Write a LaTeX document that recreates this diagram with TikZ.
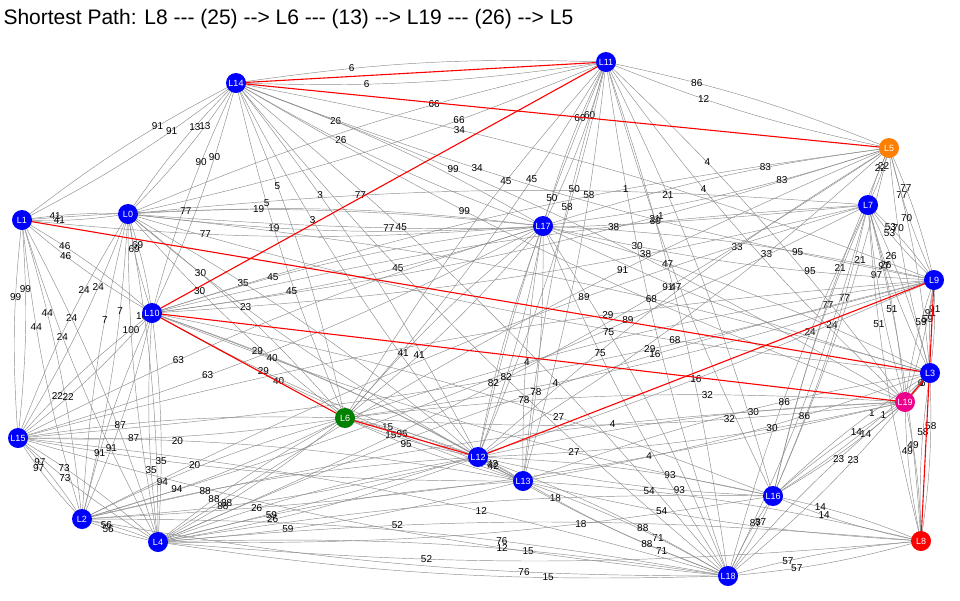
\documentclass[tikz,border=0pt]{standalone}
\usepackage{fontspec}
\setmainfont{Liberation Sans}
\usetikzlibrary{arrows.meta}
\tikzset{
  vtx/.style={circle,minimum size=20pt,inner sep=0pt,text=white,font=\fontsize{9}{9}\selectfont,fill=#1},
  edge/.style={draw=gray!90,line width=0.45pt,-{Stealth[length=6pt,width=4pt]}},
  pathedge/.style={draw=red,line width=1.1pt},
  lbl/.style={font=\fontsize{10}{10}\selectfont,inner sep=1pt,text=black}
}
\begin{document}
\begin{tikzpicture}[x=1pt,y=-1pt]
\useasboundingbox (0,0) rectangle (960,600);
\node[anchor=west,font=\fontsize{21}{21}\selectfont] (title) at (0,19) {Shortest Path: L8 {-}{-}{-} (25) {-}{-}> L6 {-}{-}{-} (13) {-}{-}> L19 {-}{-}{-} (26) {-}{-}> L5};
\coordinate (L14) at (236,83);
\coordinate (L11) at (606,62);
\coordinate (L5) at (889,148);
\coordinate (L1) at (22,220);
\coordinate (L0) at (128,214);
\coordinate (L17) at (543,226);
\coordinate (L7) at (868,205);
\coordinate (L9) at (934,280);
\coordinate (L10) at (152,313);
\coordinate (L3) at (930,373);
\coordinate (L19) at (905,402);
\coordinate (L6) at (345,418);
\coordinate (L15) at (18,438);
\coordinate (L12) at (478,457);
\coordinate (L13) at (523,481);
\coordinate (L16) at (773,496);
\coordinate (L2) at (82,519);
\coordinate (L4) at (158,542);
\coordinate (L8) at (921,541);
\coordinate (L18) at (728,576);
\foreach \a/\b/\w/\v in {L14/L11/6/6, L11/L5/86/12, L14/L1/91/91, L14/L0/13/13, L14/L10/90/90,
 L14/L17/26/26, L14/L12/3/3, L14/L6/5/5, L14/L19/99/99, L14/L18/45/45, L14/L9/34/34,
 L1/L0/41/41, L1/L10/46/46, L1/L15/99/99, L1/L2/44/44, L1/L4/24/24, L1/L17/77/77,
 L0/L10/69/69, L0/L15/24/24, L0/L2/7/7, L0/L4/100/100, L0/L7/77/77, L0/L17/19/19, L0/L6/30/30, L0/L12/35/23,
 L11/L17/60/60, L11/L0/66/66, L11/L12/50/50, L11/L18/30/30, L11/L16/21/21, L11/L6/45/45, L11/L19/4/4, L11/L13/58/58,
 L5/L7/22/22, L5/L9/77/77, L5/L3/70/70, L5/L17/83/83, L5/L10/1/1, L5/L12/33/33, L5/L4/91/91, L5/L16/21/21,
 L7/L9/53/53, L7/L3/26/26, L7/L19/97/97, L7/L16/77/77, L7/L8/51/51, L7/L2/89/89, L7/L10/38/38, L7/L18/24/24,
 L9/L3/91/91, L9/L19/59/59, L9/L17/95/95, L9/L15/29/29, L9/L4/16/16,
 L3/L19/6/6, L3/L8/58/58, L3/L0/68/68, L3/L13/86/86, L3/L16/1/1,
 L19/L8/49/49, L19/L16/14/14, L19/L12/30/30, L19/L6/32/32, L19/L2/4/4, L19/L18/23/23,
 L16/L18/87/87, L16/L8/14/14, L16/L4/18/18, L16/L12/93/93, L16/L10/27/27,
 L18/L8/57/57, L18/L4/15/15, L18/L2/76/76, L18/L13/71/71, L18/L12/88/88, L18/L15/12/12,
 L15/L2/97/97, L15/L4/73/73, L15/L10/22/22, L15/L6/87/87, L15/L17/63/63, L15/L13/20/20,
 L2/L4/56/56, L2/L10/91/91, L2/L6/94/94, L2/L12/88/88,
 L4/L10/35/35, L4/L12/26/26, L4/L13/59/59, L4/L6/88/88, L4/L8/52/52,
 L6/L12/15/15, L6/L13/95/95, L6/L17/41/41, L12/L13/42/42, L13/L17/78/78, L10/L17/45/45, L10/L13/40/40, L10/L12/29/29, L12/L17/82/82, L13/L8/54/54, L17/L3/47/47, L17/L18/75/75, L6/L9/4/4}
{
  \draw[edge] (\a) to[bend left=5] node[lbl,pos=0.3]{\w} (\b);
  \draw[edge] (\b) to[bend left=5] node[lbl,pos=0.66]{\v} (\a);
}
\draw[pathedge] (L14) -- (L11);
\draw[pathedge] (L14) -- (L5);
\draw[pathedge] (L11) -- (L10);
\draw[pathedge] (L1) -- (L3);
\draw[pathedge] (L10) -- (L19);
\draw[pathedge] (L10) -- (L6) -- (L12);
\draw[pathedge] (L12) -- (L9);
\draw[pathedge] (L8) -- (L9);
\draw[pathedge] (L3) -- (L19);
\foreach \n/\c in {L14/blue, L11/blue, L1/blue, L0/blue, L17/blue, L7/blue, L9/blue, L10/blue, L3/blue,
  L15/blue, L12/blue, L13/blue, L16/blue, L2/blue, L4/blue, L18/blue, L5/orange, L6/green!50!black, L19/magenta, L8/red}
  \node[vtx=\c] (n\n) at (\n) {\n};
\end{tikzpicture}
\end{document}
